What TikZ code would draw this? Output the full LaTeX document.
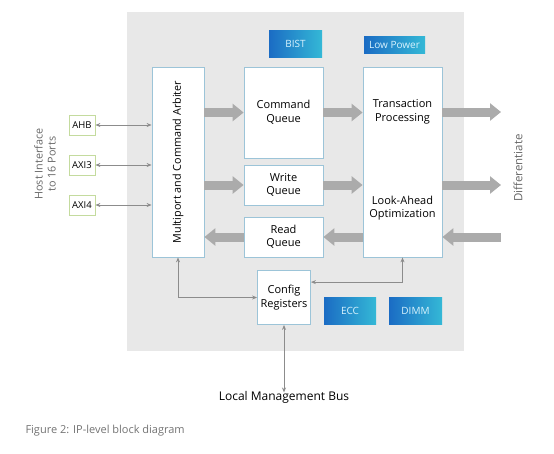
\documentclass[tikz,border=0pt]{standalone}
\usepackage{fontspec}
\setmainfont{Open Sans}
\usetikzlibrary{arrows.meta}

\definecolor{panelgray}{HTML}{E8E8E8}
\definecolor{boxline}{HTML}{9CC4D8}
\definecolor{portline}{HTML}{C4DB9E}
\definecolor{fatgray}{HTML}{ABABAB}
\definecolor{thingray}{HTML}{8C8C8C}
\definecolor{deepblue}{HTML}{1B6CC4}
\definecolor{tealblue}{HTML}{34B8D6}

\tikzset{
  block/.style={draw=boxline, line width=0.8pt, fill=white, align=center, font=\fontsize{11}{13.5}\selectfont, inner sep=0pt},
  port/.style={draw=portline, line width=0.8pt, fill=white, minimum width=26pt, minimum height=20pt, font=\fontsize{9.5}{11}\selectfont, inner sep=0pt},
  feature/.style={left color=deepblue, right color=tealblue, draw=none, text=white!85!cyan, font=\fontsize{10}{12}\selectfont, inner sep=0pt},
  fat/.style={draw=fatgray, line width=9pt, -{Triangle[length=11pt,width=17pt]}},
  thin/.style={draw=thingray, line width=0.8pt, {Stealth[length=5pt,width=4pt]}-{Stealth[length=5pt,width=4pt]}}
}

\begin{document}
\begin{tikzpicture}[x=1pt,y=-1pt]
  \useasboundingbox (0,0) rectangle (554,453);
  \fill[panelgray] (127,12) rectangle (464,351);

  % blocks
  \node[block, minimum width=52pt, minimum height=190pt] (mp) at (178,162) {};
  \node[rotate=90, font=\fontsize{10.8}{13}\selectfont] at (mp.center) {Multiport and Command Arbiter};
  \node[block, minimum width=79pt, minimum height=91pt] (cmdq) at (283.5,112.5) {Command\\Queue};
  \node[block, minimum width=79pt, minimum height=40pt] (wrq) at (283.5,185) {Write\\Queue};
  \node[block, minimum width=79pt, minimum height=40pt] (rdq) at (283.5,237) {Read\\Queue};
  \node[block, minimum width=79pt, minimum height=190pt] (tp) at (402.5,162) {};
  \node[align=center, font=\fontsize{11}{13.5}\selectfont] (tptxt) at (402.5,112) {Transaction\\Processing};
  \node[align=center, font=\fontsize{11}{13.5}\selectfont] (latxt) at (402.5,208) {Look-Ahead\\Optimization};
  \node[block, minimum width=53pt, minimum height=54pt] (cfg) at (284,297.5) {Config\\Registers};

  \node[feature, minimum width=53pt, minimum height=27pt] (bist) at (295.5,43.5) {BIST};
  \node[feature, minimum width=61pt, minimum height=17pt] (lowpwr) at (394.5,44.5) {Low Power};
  \node[feature, minimum width=52pt, minimum height=27pt] (ecc) at (350,310.5) {ECC};
  \node[feature, minimum width=53pt, minimum height=27pt] (dimm) at (415.5,310.5) {DIMM};

  % host ports
  \node[port] (ahb) at (82,125) {AHB};
  \node[port] (axi3) at (82,165) {AXI3};
  \node[port] (axi4) at (82,205) {AXI4};
  \node[rotate=90, align=center, text=black!60, font=\fontsize{10.8}{13}\selectfont] (host) at (45,164) {Host Interface\\to 16 Ports};
  \node[rotate=90, text=black!60, font=\fontsize{11.5}{13}\selectfont] (diff) at (518,168) {Differentiate};
  \node[font=\fontsize{12}{14}\selectfont] (bus) at (284,397) {Local Management Bus};
  \node[anchor=west, text=black!55, font=\fontsize{11}{13}\selectfont] (cap) at (22,431) {Figure 2: IP-level block diagram};

  \coordinate (out1) at (501,112);
  \coordinate (out2) at (501,185);
  \coordinate (in1) at (501,237);

  % wide data paths
  \draw[fat] (mp.east |- cmdq) -- (cmdq.west);
  \draw[fat] (mp.east |- wrq) -- (wrq.west);
  \draw[fat] (rdq.west) -- (mp.east |- rdq);
  \draw[fat] (cmdq.east) -- (tp.west |- cmdq);
  \draw[fat] (wrq.east) -- (tp.west |- wrq);
  \draw[fat] (tp.west |- rdq) -- (rdq.east);
  \draw[fat] (tp.east |- out1) -- (out1);
  \draw[fat] (tp.east |- out2) -- (out2);
  \draw[fat] (in1) -- (tp.east |- in1);

  % control paths
  \draw[thin] (ahb.east) -- (mp.west |- ahb);
  \draw[thin] (axi3.east) -- (mp.west |- axi3);
  \draw[thin] (axi4.east) -- (mp.west |- axi4);
  \draw[thin] (mp.south) |- (cfg.west);
  \draw[thin] (tp.south) |- ([yshift=-12pt]cfg.north east);
  \draw[thin] (cfg.south) -- ([yshift=-5pt]bus.north);
\end{tikzpicture}
\end{document}
